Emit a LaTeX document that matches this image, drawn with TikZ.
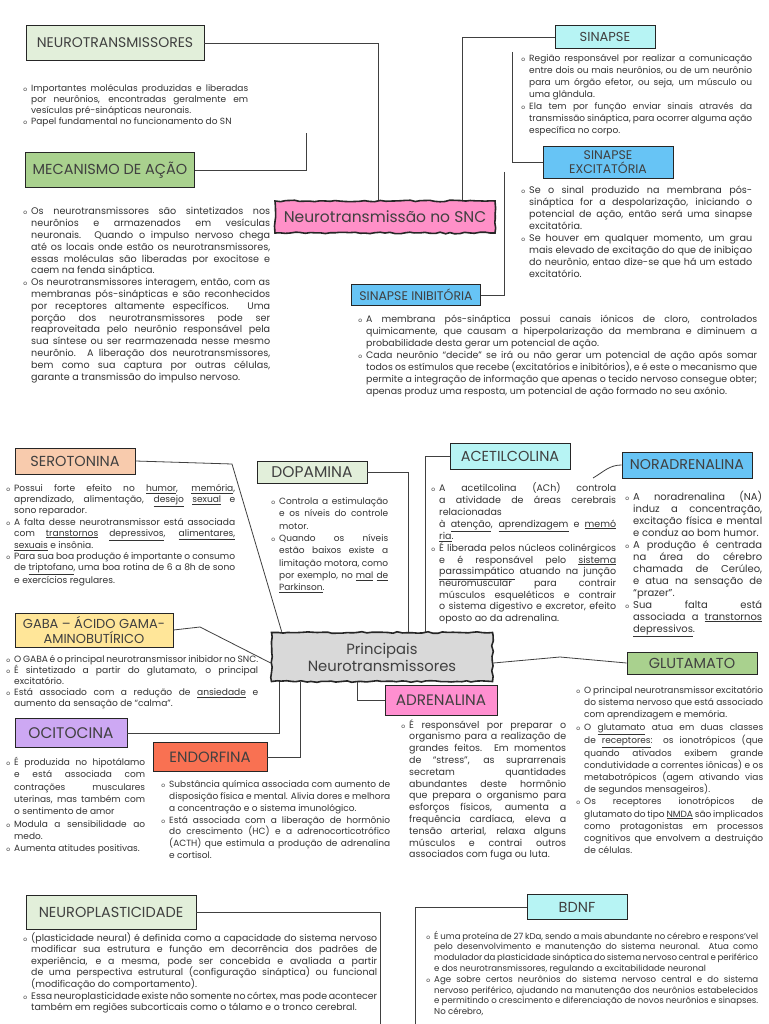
\documentclass[tikz,border=0pt]{standalone}
\usepackage{fontspec}
\setmainfont{Poppins}
\usetikzlibrary{positioning, decorations.pathmorphing}

\definecolor{verdeclaro}{HTML}{E2EFDA}
\definecolor{verde}{HTML}{A9D18E}
\definecolor{ciano}{HTML}{B7F4F4}
\definecolor{azul}{HTML}{67C4F5}
\definecolor{rosa}{HTML}{FF90C8}
\definecolor{rosaadr}{HTML}{FF8FD0}
\definecolor{salmao}{HTML}{F8CBAD}
\definecolor{amarelo}{HTML}{FFE699}
\definecolor{lilas}{HTML}{CDA8F3}
\definecolor{laranja}{HTML}{F97152}
\definecolor{cinza}{HTML}{D9D9D9}

\hyphenpenalty=10000
\tolerance=10000
\newcommand{\fs}[2]{\fontsize{#1}{#2}\selectfont}
\newcommand{\sbl}[1]{\underline{#1}}
\newenvironment{pontos}{\begin{list}{\fs{6}{6}o}{\setlength{\leftmargin}{11pt}%
  \setlength{\labelsep}{4pt}\setlength{\labelwidth}{7pt}\setlength{\topsep}{0pt}%
  \setlength{\partopsep}{0pt}\setlength{\itemsep}{0pt}\setlength{\parsep}{0pt}}}{\end{list}}

\begin{document}
\begin{tikzpicture}[x=1pt, y=-1pt,
    head/.style={draw=black!85, line width=0.9pt, text=black!75, align=center,
      inner sep=1pt, font=\fs{14.5}{16}},
    info/.style={anchor=north west, inner sep=0pt, text width=#1, align=justify, text=black!80},
    link/.style={draw=black!75, line width=0.8pt},
    rough/.style={decorate, decoration={random steps, segment length=5pt, amplitude=0.8pt},
      line width=1.6pt}
  ]
  \pgfmathsetseed{7}
  \useasboundingbox (0,0) rectangle (768,1024);
  \clip (0,0) rectangle (768,1024);
  \fill[white] (0,0) rectangle (768,1024);

  % Neurotransmissao no SNC
  \node[head, rough, fill=rosa, minimum width=220pt, minimum height=32pt, font=\fs{15.5}{17}] (snc) at (385,217) {Neurotransmissão no SNC};
  \node[head, fill=verdeclaro, minimum width=178pt, minimum height=35pt, font=\fs{14}{16}] (neuro) at (115,43) {NEUROTRANSMISSORES};
  \node[head, fill=verde, minimum width=169pt, minimum height=35pt] (mecan) at (110,170) {MECANISMO DE AÇÃO};
  \node[head, fill=ciano, minimum width=100pt, minimum height=23pt, font=\fs{13}{15}] (sinapse) at (605,37) {SINAPSE};
  \node[head, fill=azul, minimum width=130pt, minimum height=32pt, font=\fs{12.5}{13.5}] (excit) at (608,162) {SINAPSE\\EXCITATÓRIA};
  \node[head, fill=azul, minimum width=129pt, minimum height=21pt, font=\fs{12.5}{14}] (inib) at (416,295) {SINAPSE INIBITÓRIA};

  \coordinate (m1) at (306,133);
  \coordinate (s1) at (512,52);
  \coordinate (s2) at (504,172);
  \draw[link] (neuro.east) -| ([xshift=-7pt]snc.north);
  \draw[link] (sinapse.west) -| ([xshift=77pt]snc.north);
  \draw[link] (mecan.east) -| (m1);
  \draw[link] (s1) |- (excit.west);
  \draw[link] (s2) |- (inib.east);

  \node[info=228pt, font=\fs{9}{11}] (tneuro) at (20,80) {\begin{pontos}
    \item Importantes moléculas produzidas e liberadas por neurônios, encontradas geralmente em vesículas pré-sinápticas neuronais.
    \item Papel fundamental no funcionamento do SN
  \end{pontos}};
  \node[info=250pt, font=\fs{9.6}{11.8}] (tmecan) at (20,203) {\begin{pontos}
    \item Os neurotransmissores são sintetizados nos neurônios e armazenados em vesículas neuronais. Quando o impulso nervoso chega até os locais onde estão os neurotransmissores, essas moléculas são liberadas por exocitose e caem na fenda sináptica.
    \item Os neurotransmissores interagem, então, com as membranas pós-sinápticas e são reconhecidos por receptores altamente específicos. Uma porção dos neurotransmissores pode ser reaproveitada pelo neurônio responsável pela sua síntese ou ser rearmazenada nesse mesmo neurônio. A liberação dos neurotransmissores, bem como sua captura por outras células, garante a transmissão do impulso nervoso.
  \end{pontos}};
  \node[info=234pt, font=\fs{9}{12}] (tsinapse) at (518,49) {\begin{pontos}
    \item Região responsável por realizar a comunicação entre dois ou mais neurônios, ou de um neurônio para um órgão efetor, ou seja, um músculo ou uma glândula.
    \item Ela tem por função enviar sinais através da transmissão sináptica, para ocorrer alguma ação específica no corpo.
  \end{pontos}};
  \node[info=234pt, font=\fs{9.6}{12}] (texcit) at (518,181) {\begin{pontos}
    \item Se o sinal produzido na membrana pós-sináptica for a despolarização, iniciando o potencial de ação, então será uma sinapse excitatória.
    \item Se houver em qualquer momento, um grau mais elevado de excitação do que de inibiçao do neurônio, entao dize-se que há um estado excitatório.
  \end{pontos}};
  \node[info=402pt, font=\fs{9.4}{12}] (tinib) at (355,310) {\begin{pontos}
    \item A membrana pós-sináptica possui canais iónicos de cloro, controlados quimicamente, que causam a hiperpolarização da membrana e diminuem a probabilidade desta gerar um potencial de ação.
    \item Cada neurônio “decide” se irá ou não gerar um potencial de ação após somar todos os estímulos que recebe (excitatórios e inibitórios), e é este o mecanismo que permite a integração de informação que apenas o tecido nervoso consegue obter; apenas produz uma resposta, um potencial de ação formado no seu axónio.
  \end{pontos}};

  % Principais Neurotransmissores
  \node[head, rough, fill=cinza, minimum width=221pt, minimum height=49pt, font=\fs{14.8}{17}] (princ) at (382,657) {Principais\\Neurotransmissores};
  \node[head, fill=salmao, minimum width=120pt, minimum height=26pt] (sero) at (75,461) {SEROTONINA};
  \node[head, fill=verdeclaro, minimum width=110pt, minimum height=22pt, font=\fs{15.5}{17}] (dopa) at (312,472) {DOPAMINA};
  \node[head, fill=ciano, minimum width=120pt, minimum height=26pt] (acet) at (510,456) {ACETILCOLINA};
  \node[head, fill=azul, minimum width=130pt, minimum height=26pt, font=\fs{14.2}{16}] (nora) at (687,465) {NORADRENALINA};
  \node[head, fill=amarelo, minimum width=158pt, minimum height=34pt, font=\fs{13}{15}] (gaba) at (94,630) {GABA – ÁCIDO GAMA-\\AMINOBUTÍRICO};
  \node[head, fill=lilas, minimum width=112pt, minimum height=29pt, font=\fs{15.4}{17}] (ocito) at (71,733) {OCITOCINA};
  \node[head, fill=laranja, minimum width=114pt, minimum height=29pt, font=\fs{14.9}{17}] (endor) at (210,757) {ENDORFINA};
  \node[head, fill=rosaadr, minimum width=112pt, minimum height=30pt, font=\fs{15.2}{17}] (adren) at (441,700) {ADRENALINA};
  \node[head, fill=verde, minimum width=130pt, minimum height=22pt] (gluta) at (692,663) {GLUTAMATO};

  \coordinate (n1) at (593,478);
  \draw[link] (sero.east) -- (232,464) -- ([xshift=11pt]princ.north west);
  \draw[link] (dopa.east) -| ([xshift=26pt]princ.north);
  \draw[link] (acet.west) -| ([xshift=43pt]princ.north);
  \draw[link] (nora.west) to[out=180, in=30] (n1);
  \draw[link] (gaba.east) -- (200,627) -- ([yshift=-6pt]princ.west);
  \draw[link] (ocito.east) -| ([xshift=9pt]princ.south west);
  \draw[link] (endor.east) -| ([xshift=30pt]princ.south west);
  \draw[link] (adren.west) -| ([xshift=-25pt]princ.south);
  \draw[link] (gluta.west) -- (560,657) -- ([yshift=-6pt]princ.east);

  \node[info=232pt, font=\fs{9.1}{11.2}] (tsero) at (3,480) {\begin{pontos}
    \item Possui forte efeito no \sbl{humor}, \sbl{memória}, aprendizado, alimentação, \sbl{desejo} \sbl{sexual} e sono reparador.
    \item A falta desse neurotransmissor está associada com \sbl{transtornos} \sbl{depressivos}, \sbl{alimentares,} \sbl{sexuais} e insônia.
    \item Para sua boa produção é importante o consumo de \sbl{triptofano}, uma boa rotina de 6 a 8h de sono e exercícios regulares.
  \end{pontos}};
  \node[info=120pt, font=\fs{9}{12.3}] (tdopa) at (268,492) {\begin{pontos}
    \item Controla a estimulação e os níveis do controle motor.
    \item Quando os níveis estão baixos existe a limitação motora, como por exemplo, no \sbl{mal} \sbl{de} \sbl{Parkinson}.
  \end{pontos}};
  \node[info=188pt, font=\fs{9.5}{11.7}] (tacet) at (428,480) {\begin{pontos}
    \item A acetilcolina (ACh) controla a atividade de áreas cerebrais relacionadas\newline à \sbl{atenção}, \sbl{aprendizagem} e \sbl{memó}\linebreak\sbl{ria}.
    \item É liberada pelos núcleos colinérgicos e é responsável pelo \sbl{sistema}\linebreak\sbl{parassimpático} atuando na junção neuromuscular para contrair músculos esqueléticos e contrair o sistema digestivo e excretor, efeito oposto ao da adrenalina.
  \end{pontos}};
  \node[info=140pt, font=\fs{10}{12}] (tnora) at (622,488) {\begin{pontos}
    \item A noradrenalina (NA) induz a concentração, excitação física e mental e conduz ao bom humor.
    \item A produção é centrada na área do cérebro chamada de Cerúleo, e atua na sensação de “prazer”.
    \item Sua falta está associada a \sbl{transtornos} \sbl{depressivos}.
  \end{pontos}};
  \node[info=255pt, font=\fs{9.1}{10.8}] (tgaba) at (3,651) {\begin{pontos}
    \item O GABA é o principal neurotransmissor inibidor no SNC.
    \item É sintetizado a partir do glutamato, o principal excitatório.
    \item Está associado com a redução de \sbl{ansiedade} e aumento da sensação de “calma”.
  \end{pontos}};
  \node[info=142pt, font=\fs{9}{12.3}] (tocito) at (3,753) {\begin{pontos}
    \item É produzida no hipotálamo e está associada com contrações musculares uterinas, mas também com o sentimento de amor
    \item Modula a sensibilidade ao medo.
    \item Aumenta atitudes positivas.
  \end{pontos}};
  \node[info=232pt, font=\fs{9}{11.7}] (tendor) at (158,776) {\begin{pontos}
    \item Substância química associada com aumento de disposição física e mental. Alivia dores e melhora a concentração e o sistema imunológico.
    \item Está associada com a liberação de hormônio do crescimento (HC) e a adrenocorticotrófico (ACTH) que estimula a produção de adrenalina e cortisol.
  \end{pontos}};
  \node[info=168pt, font=\fs{9.5}{11.8}] (tadren) at (398,716) {\begin{pontos}
    \item É responsável por preparar o organismo para a realização de grandes feitos. Em momentos de “stress”, as suprarrenais secretam quantidades abundantes deste hormônio que prepara o organismo para esforços físicos, aumenta a frequência cardíaca, eleva a tensão arterial, relaxa alguns músculos e contrai outros associados com fuga ou luta.
  \end{pontos}};
  \node[info=190pt, font=\fs{9}{12.2}] (tgluta) at (573,681) {\begin{pontos}
    \item O principal neurotransmissor excitatório do sistema nervoso que está associado com aprendizagem e memória.
    \item O \sbl{glutamato} atua em duas classes de \sbl{receptores}: os ionotrópicos (que quando ativados exibem grande condutividade a correntes iônicas) e os metabotrópicos (agem ativando vias de segundos mensageiros).
    \item Os receptores ionotrópicos de glutamato do tipo \sbl{NMDA} são implicados como protagonistas em processos cognitivos que envolvem a destruição de células.
  \end{pontos}};

  % Neuroplasticidade e BDNF
  \node[head, fill=verdeclaro, minimum width=170pt, minimum height=34pt] (neurop) at (111,912) {NEUROPLASTICIDADE};
  \node[head, fill=ciano, minimum width=100pt, minimum height=25pt] (bdnf) at (577,907) {BDNF};
  \coordinate (p1) at (380,1030);
  \coordinate (b1) at (415,1030);
  \draw[link] (neurop.east) -| (p1);
  \draw[link] (bdnf.west) -| (b1);

  \node[info=357pt, font=\fs{9.4}{11.3}] (tneurop) at (20,930) {\begin{pontos}
    \item (plasticidade neural) é definida como a capacidade do sistema nervoso modificar sua estrutura e função em decorrência dos padrões de experiência, e a mesma, pode ser concebida e avaliada a partir de uma perspectiva estrutural (configuração sináptica) ou funcional (modificação do comportamento).
    \item Essa neuroplasticidade existe não somente no córtex, mas pode acontecer também em regiões subcorticais como o tálamo e o tronco cerebral.
  \end{pontos}};
  \node[info=335pt, font=\fs{8.6}{10.8}] (tbdnf) at (423,928) {\begin{pontos}
    \item É uma proteína de 27 kDa, sendo a mais abundante no cérebro e respons'vel pelo desenvolvimento e manutenção do sistema neuronal. Atua como modulador da plasticidade sináptica do sistema nervoso central e periférico e dos neurotransmissores, regulando a excitabilidade neuronal
    \item Age sobre certos neurônios do sistema nervoso central e do sistema nervoso periférico, ajudando na manutenção dos neurônios estabelecidos e permitindo o crescimento e diferenciação de novos neurônios e sinapses. No cérebro,
  \end{pontos}};
\end{tikzpicture}
\end{document}
